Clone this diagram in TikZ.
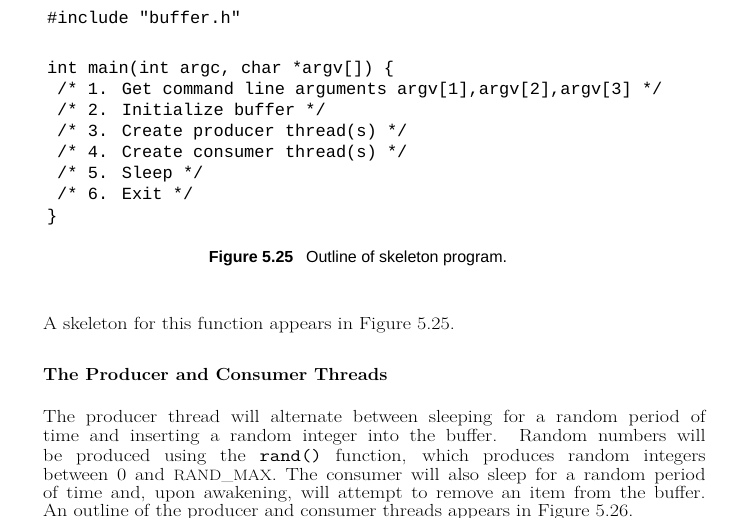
\documentclass[tikz,border=0pt]{standalone}
\usepackage{graphicx}
\usepackage{fontspec}
\newfontfamily\codefont{Liberation Mono}
\newfontfamily\capfont{Liberation Sans}
\newcommand{\jl}[1]{\scalebox{1.15}[1]{\makebox[576pt][s]{#1}}}
\newcommand{\nl}[1]{\scalebox{1.15}[1]{#1}}
\begin{document}
\begin{tikzpicture}[x=1pt,y=-1pt,
  code/.style={anchor=base west,inner sep=0pt,font=\codefont\fontsize{17}{20}\selectfont},
  body/.style={anchor=base west,inner sep=0pt,font=\fontsize{17.5}{20}\selectfont}]
\useasboundingbox[fill=white] (0,0) rectangle (731,518);
\node[code] (c0) at (47,24) {\#include "buffer.h"};
\node[code] (c1) at (47,74) {int main(int argc, char *argv[]) \{};
\node[code] (c2) at (57,95) {/* 1. Get command line arguments argv[1],argv[2],argv[3] */};
\node[code] (c3) at (57,116) {/* 2. Initialize buffer */};
\node[code] (c4) at (57,137) {/* 3. Create producer thread(s) */};
\node[code] (c5) at (57,158) {/* 4. Create consumer thread(s) */};
\node[code] (c6) at (57,179) {/* 5. Sleep */};
\node[code] (c7) at (57,200) {/* 6. Exit */};
\node[code] (c8) at (47,222) {\}};
\node[anchor=base,inner sep=0pt,font=\capfont\fontsize{16}{18}\selectfont] (cap) at (358,263) {\textbf{Figure 5.25}\hspace{0.8em}Outline of skeleton program.};
\node[body] (sk) at (43,330) {\nl{A skeleton for this function appears in Figure 5.25.}};
\node[body,font=\bfseries\fontsize{17.5}{20}\selectfont] (hd) at (43,381) {\scalebox{1.05}[1]{The Producer and Consumer Threads}};
\node[body] (p1) at (43,423) {\jl{The producer thread will alternate between sleeping for a random period of}};
\node[body] (p2) at (43,442) {\jl{time and inserting a random integer into the buffer. Random numbers will}};
\node[body] (p3) at (43,461) {\jl{be produced using the {\ttfamily rand()} function, which produces random integers}};
\node[body] (p4) at (43,480) {\jl{between 0 and {\fontsize{15}{18}\selectfont RAND\_MAX}. The consumer will also sleep for a random period}};
\node[body] (p5) at (43,498) {\jl{of time and, upon awakening, will attempt to remove an item from the buffer.}};
\node[body] (p6) at (43,516) {\nl{An outline of the producer and consumer threads appears in Figure 5.26.}};
\end{tikzpicture}
\end{document}
